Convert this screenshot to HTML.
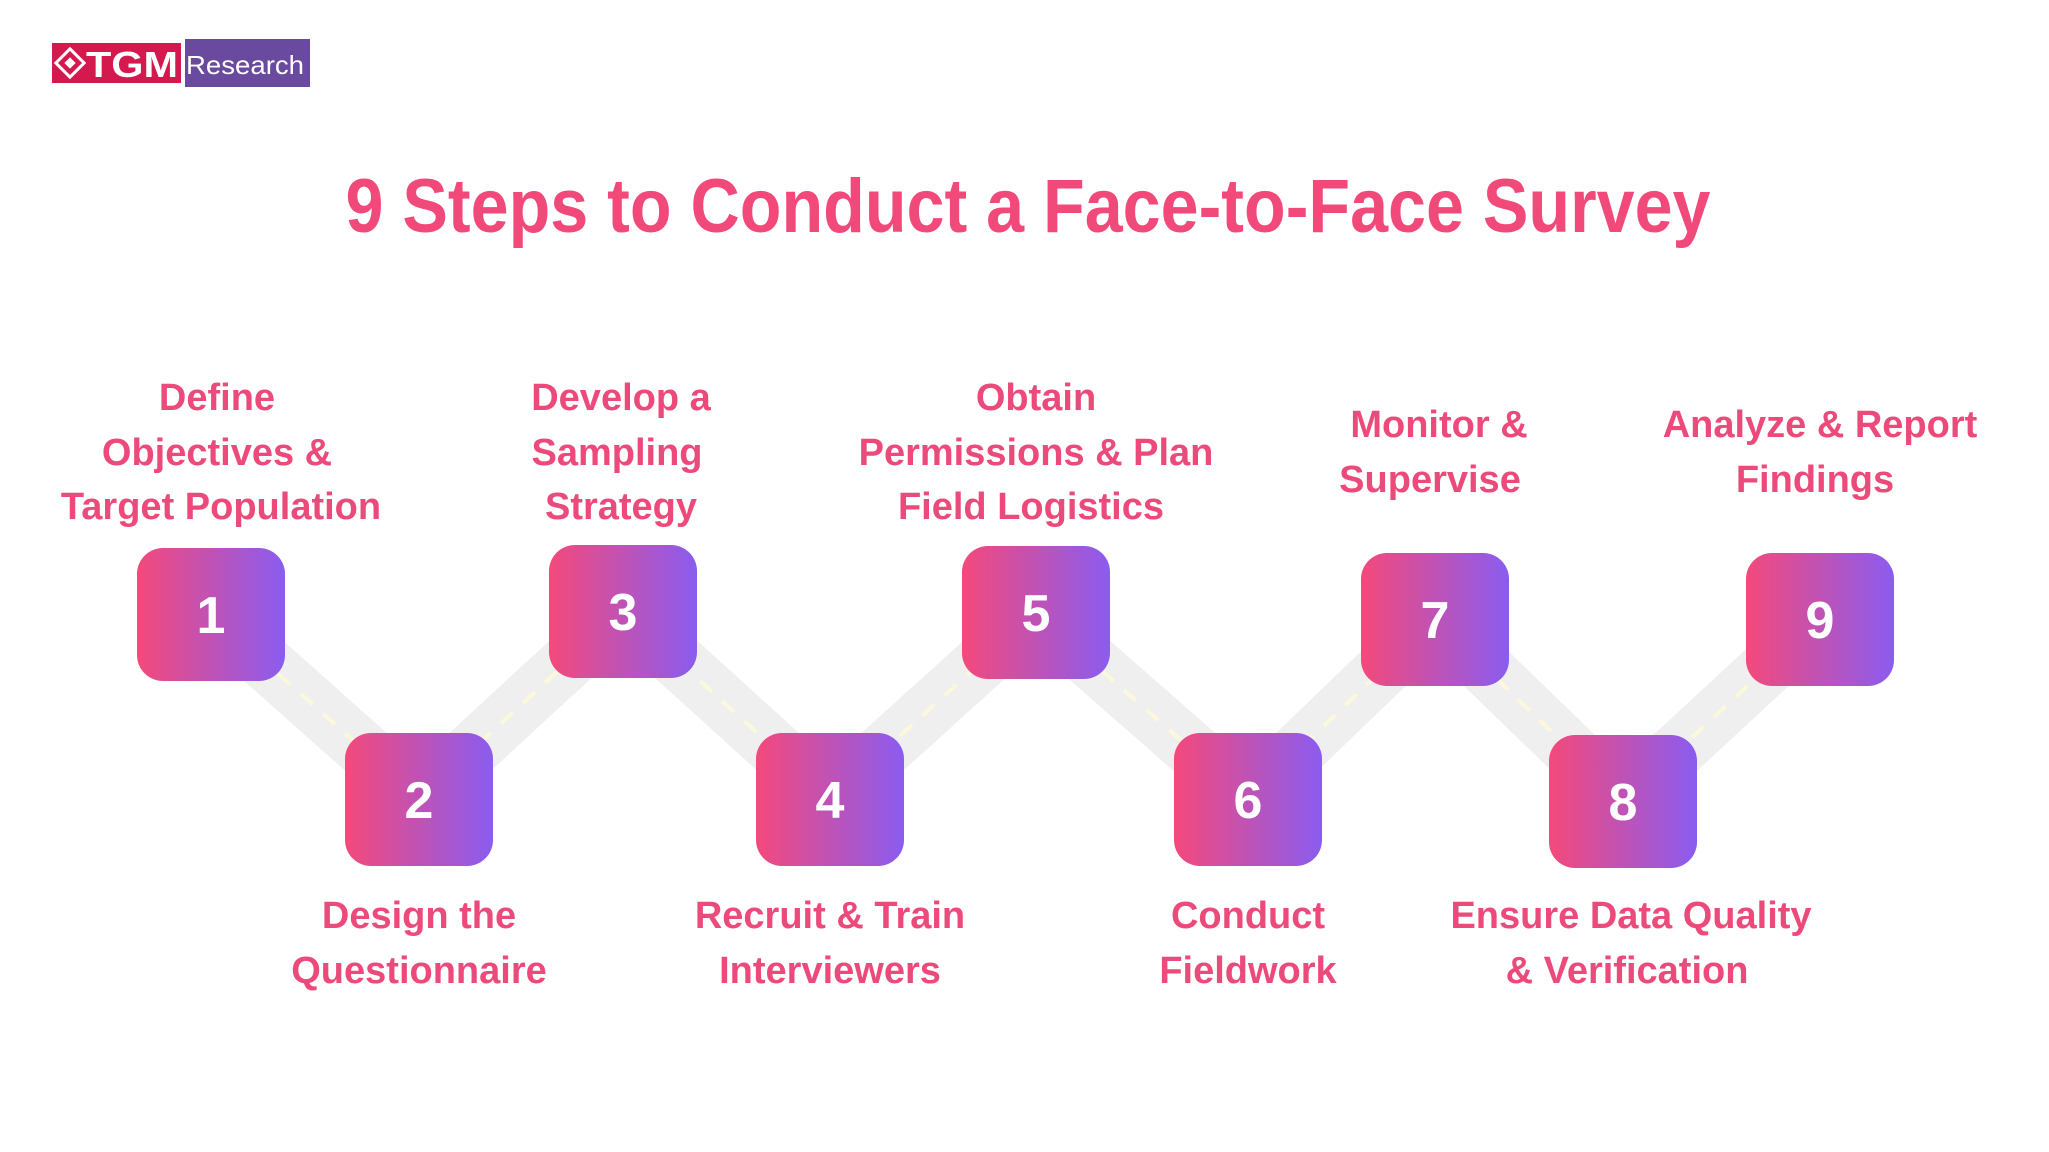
<!DOCTYPE html>
<html><head><meta charset="utf-8"><style>
html,body{margin:0;padding:0;background:#fff;}
svg{display:block;}
text{font-family:"Liberation Sans",sans-serif;font-weight:bold;}
</style></head><body>
<svg width="2049" height="1152" viewBox="0 0 2049 1152" xmlns="http://www.w3.org/2000/svg">
<defs>
<linearGradient id="g" x1="0" y1="0" x2="1" y2="0">
<stop offset="0" stop-color="#f4497b"/><stop offset="1" stop-color="#8a5cf0"/>
</linearGradient>
</defs>
<rect width="2049" height="1152" fill="#fff"/>
<!-- logo -->
<rect x="48" y="39" width="262" height="48" fill="#6a4a9e"/>
<rect x="48" y="39" width="137" height="48" fill="#fff"/>
<rect x="52" y="43" width="129" height="40" fill="#d3194d"/>
<g transform="translate(70,63)"><rect x="-10" y="-10" width="20" height="20" transform="rotate(45)" fill="none" stroke="#fff" stroke-width="3"/><rect x="-4" y="-4" width="8" height="8" transform="rotate(45)" fill="#fff"/></g>
<text x="86" y="77" font-size="36" fill="#fff" textLength="92" lengthAdjust="spacingAndGlyphs">TGM</text>
<text x="186" y="74" font-size="26" fill="#fff" style="font-weight:normal" textLength="118" lengthAdjust="spacingAndGlyphs">Research</text>
<!-- title -->
<text x="1028" y="232" font-size="76" fill="#f0497a" text-anchor="middle" textLength="1365" lengthAdjust="spacingAndGlyphs">9 Steps to Conduct a Face-to-Face Survey</text>
<g transform="translate(-5,-3)">
<!-- road -->
<polyline points="216,617 424,802 628,614 835,802 1041,616 1253,802 1440,622 1628,804 1825,622" fill="none" stroke="#efefef" stroke-width="56" stroke-linejoin="miter"/>
<polyline points="216,617 424,802 628,614 835,802 1041,616 1253,802 1440,622 1628,804 1825,622" fill="none" stroke="#fcf8dc" stroke-width="4" stroke-dasharray="16,14"/>
<!-- boxes -->
<g fill="url(#g)">
<rect x="142" y="551" width="148" height="133" rx="26"/>
<rect x="350" y="736" width="148" height="133" rx="26"/>
<rect x="554" y="548" width="148" height="133" rx="26"/>
<rect x="761" y="736" width="148" height="133" rx="26"/>
<rect x="967" y="549" width="148" height="133" rx="26"/>
<rect x="1179" y="736" width="148" height="133" rx="26"/>
<rect x="1366" y="556" width="148" height="133" rx="26"/>
<rect x="1554" y="738" width="148" height="133" rx="26"/>
<rect x="1751" y="556" width="148" height="133" rx="26"/>
</g>
<g fill="#fff" font-size="52" text-anchor="middle">
<text x="216" y="636">1</text>
<text x="424" y="821">2</text>
<text x="628" y="633">3</text>
<text x="835" y="821">4</text>
<text x="1041" y="634">5</text>
<text x="1253" y="821">6</text>
<text x="1440" y="641">7</text>
<text x="1628" y="823">8</text>
<text x="1825" y="641">9</text>
</g>
<!-- labels -->
<g fill="#ec4a7a" font-size="38" text-anchor="middle">
<text x="222" y="413">Define</text>
<text x="222" y="468">Objectives &amp;</text>
<text x="226" y="522">Target Population</text>
<text x="626" y="413">Develop a</text>
<text x="622" y="468">Sampling</text>
<text x="626" y="522">Strategy</text>
<text x="1041" y="413">Obtain</text>
<text x="1041" y="468">Permissions &amp; Plan</text>
<text x="1036" y="522">Field Logistics</text>
<text x="1444" y="440">Monitor &amp;</text>
<text x="1435" y="495">Supervise</text>
<text x="1825" y="440">Analyze &amp; Report</text>
<text x="1820" y="495">Findings</text>
<text x="424" y="931">Design the</text>
<text x="424" y="986">Questionnaire</text>
<text x="835" y="931">Recruit &amp; Train</text>
<text x="835" y="986">Interviewers</text>
<text x="1253" y="931">Conduct</text>
<text x="1253" y="986">Fieldwork</text>
<text x="1636" y="931">Ensure Data Quality</text>
<text x="1632" y="986">&amp; Verification</text>
</g>
</g>
</svg>
</body></html>
